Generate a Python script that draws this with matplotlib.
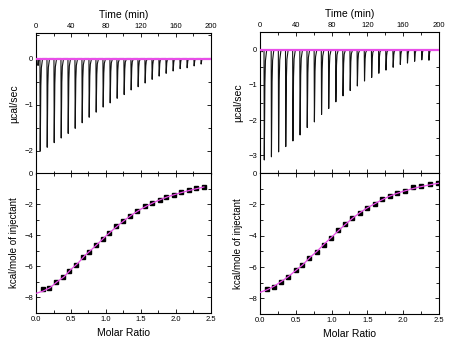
import matplotlib
matplotlib.use("Agg")
import matplotlib.pyplot as plt
from matplotlib.ticker import MultipleLocator

plt.rcParams['font.family'] = ['Liberation Sans', 'DejaVu Sans']

# injection times (min), same schedule for both runs
t_first = 2.0
t_inj = [4.5, 12.5, 20.5, 28.5, 36.5, 44.5, 52.5, 60.5, 68.5, 76.5, 84.5, 92.5,
         100.5, 108.5, 116.5, 124.5, 132.5, 140.5, 148.5, 156.5, 164.5, 172.5, 180.5, 188.5]

# peak depths of the raw heat signal (ucal/sec)
left_first = -0.15
left_peaks = [-2.0, -1.92, -1.82, -1.72, -1.62, -1.51, -1.39, -1.27, -1.16, -1.05, -0.96, -0.86,
              -0.78, -0.68, -0.61, -0.53, -0.45, -0.38, -0.32, -0.27, -0.22, -0.2, -0.16, -0.12]
right_first = -0.06
right_peaks = [-3.13, -3.04, -2.9, -2.75, -2.59, -2.42, -2.21, -2.05, -1.84, -1.67, -1.48, -1.31,
               -1.16, -1.03, -0.89, -0.79, -0.67, -0.58, -0.5, -0.42, -0.38, -0.33, -0.29, -0.3]

# integrated heats (kcal/mole of injectant)
left_ratio = [0.105, 0.19, 0.286, 0.38, 0.477, 0.573, 0.668, 0.763, 0.859, 0.954, 1.05, 1.145,
              1.25, 1.345, 1.45, 1.56, 1.66, 1.765, 1.86, 1.966, 2.07, 2.18, 2.29, 2.395]
left_heat = [-7.48, -7.40, -6.99, -6.71, -6.28, -5.91, -5.42, -5.05, -4.65, -4.22, -3.83, -3.44,
             -3.08, -2.75, -2.45, -2.15, -1.96, -1.74, -1.53, -1.40, -1.23, -1.10, -0.97, -0.88]
right_ratio = [0.103, 0.2, 0.294, 0.397, 0.5, 0.593, 0.69, 0.794, 0.888, 0.99, 1.09, 1.19,
               1.29, 1.39, 1.5, 1.6, 1.71, 1.81, 1.92, 2.03, 2.14, 2.25, 2.37, 2.48]
right_heat = [-7.42, -7.30, -6.93, -6.65, -6.22, -5.90, -5.41, -5.02, -4.57, -4.14, -3.65, -3.26,
              -2.85, -2.53, -2.21, -1.95, -1.67, -1.46, -1.27, -1.14, -0.92, -0.86, -0.73, -0.64]

# fitted curves
left_fit_x = [0, 0.1, 0.2, 0.3, 0.4, 0.5, 0.6, 0.7, 0.8, 0.9, 1.0, 1.1, 1.2, 1.3, 1.4, 1.5,
              1.6, 1.7, 1.8, 1.9, 2.0, 2.1, 2.2, 2.3, 2.4]
left_fit_y = [-7.74, -7.6, -7.38, -7.0, -6.68, -6.2, -5.8, -5.3, -4.9, -4.48, -4.05, -3.65,
              -3.27, -2.92, -2.6, -2.32, -2.08, -1.86, -1.67, -1.5, -1.36, -1.23, -1.11, -1.0, -0.9]
right_fit_x = [0, 0.1, 0.2, 0.3, 0.4, 0.5, 0.6, 0.7, 0.8, 0.9, 1.0, 1.1, 1.2, 1.3, 1.4, 1.5,
               1.6, 1.7, 1.8, 1.9, 2.0, 2.1, 2.2, 2.3, 2.4, 2.5]
right_fit_y = [-7.62, -7.45, -7.22, -6.92, -6.6, -6.22, -5.85, -5.38, -4.98, -4.52, -4.1, -3.66,
               -3.25, -2.86, -2.52, -2.22, -1.97, -1.72, -1.5, -1.32, -1.17, -1.04, -0.92, -0.82,
               -0.73, -0.65]

# shape of one injection peak (offset in min, fraction of depth)
shape_dt = [0, 0.3, 0.7, 1.0, 1.6, 3.0]
shape_f = [0, 1, 0.6, 0.3, 0.1, 0]

MAG = '#e84de8'


def trace(first, peaks):
    xs, ys = [0], [0]
    for t, d in zip([t_first] + t_inj, [first] + peaks):
        for dt, f in zip(shape_dt, shape_f):
            xs.append(t + dt)
            ys.append(d * f)
    xs.append(200)
    ys.append(0)
    return xs, ys


def style(ax):
    ax.tick_params(which='both', direction='in', top=True, right=True, labelsize=5.5, pad=2)
    ax.tick_params(which='major', length=3, width=0.6)
    ax.tick_params(which='minor', length=2, width=0.6)
    for s in ax.spines.values():
        s.set_linewidth(0.8)


fig = plt.figure(figsize=(4.74, 3.56), dpi=100)

panels = [
    (0.076, 0.369, 0.511, 0.121, 0.393, left_first, left_peaks, (-2.5, 0.55),
     left_ratio, left_heat, left_fit_x, left_fit_y),
    (0.5485, 0.3776, 0.514, 0.118, 0.396, right_first, right_peaks, (-3.5, 0.5),
     right_ratio, right_heat, right_fit_x, right_fit_y),
]

for left, width, top_b, low_b, low_h, first, peaks, ylim, rx, ry, fx, fy in panels:
    ax1 = fig.add_axes([left, top_b, width, 0.396])
    tx, ty = trace(first, peaks)
    ax1.plot(tx, ty, color='#111111', lw=0.8)
    ax1.plot([0, 200], [0, 0], color=MAG, lw=1.6, zorder=3)
    ax1.set_xlim(0, 200)
    ax1.set_ylim(*ylim)
    ax1.xaxis.set_major_locator(MultipleLocator(40))
    ax1.xaxis.set_minor_locator(MultipleLocator(20))
    ax1.yaxis.set_major_locator(MultipleLocator(1))
    ax1.yaxis.set_minor_locator(MultipleLocator(0.5))
    style(ax1)
    ax1.tick_params(labeltop=True, labelbottom=False)
    ax1.xaxis.set_label_position('top')
    ax1.set_xlabel('Time (min)', fontsize=7.5, labelpad=4)
    ax1.set_ylabel('\u00b5cal/sec', fontsize=7.5, labelpad=4)

    ax2 = fig.add_axes([left, low_b, width, low_h])
    ax2.plot(rx, ry, 's', color='black', ms=3.3, zorder=2)
    ax2.plot(fx, fy, color=MAG, lw=0.9, zorder=3)
    ax2.set_xlim(0, 2.5)
    ax2.set_ylim(-9, 0)
    ax2.xaxis.set_major_locator(MultipleLocator(0.5))
    ax2.xaxis.set_minor_locator(MultipleLocator(0.25))
    ax2.yaxis.set_major_locator(MultipleLocator(2))
    ax2.yaxis.set_minor_locator(MultipleLocator(1))
    style(ax2)
    ax2.set_xlabel('Molar Ratio', fontsize=7.5, labelpad=4)
    ax2.set_ylabel('kcal/mole of injectant', fontsize=7, labelpad=4)

fig.savefig('out.png', dpi=100)
